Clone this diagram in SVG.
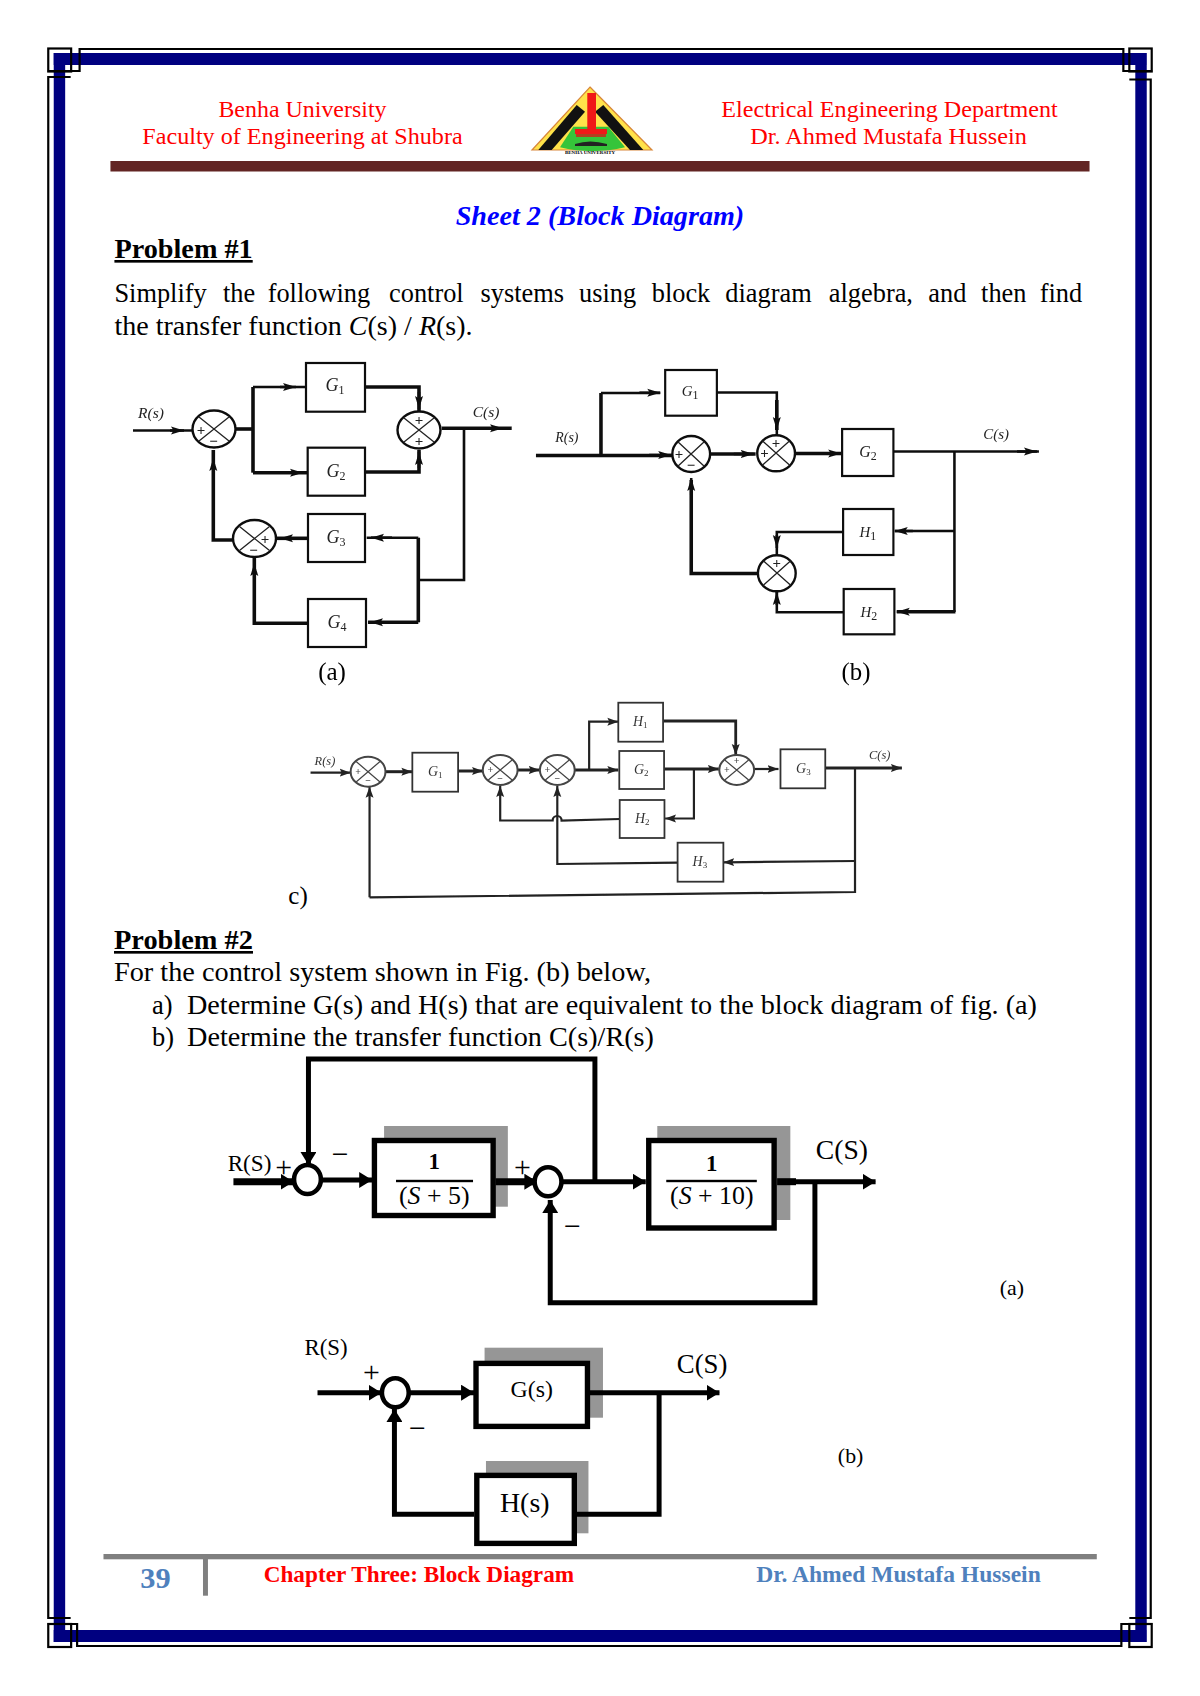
<svg xmlns="http://www.w3.org/2000/svg" width="1200" height="1696" viewBox="0 0 1200 1696">
<style>
text{font-family:"Liberation Serif","Times New Roman",serif;fill:#000}
.hd{font-size:23px;fill:#f00;text-anchor:middle}
.body{font-size:26.5px}
.bi{font-style:italic}
.prob{font-size:26.5px;font-weight:bold}
.cap{font-size:25px;text-anchor:middle}
.cap2{font-size:22px;text-anchor:middle}
.foot{font-size:23px;font-weight:bold}
.box{fill:#fff;stroke:#111;stroke-width:2.2}
.sum{fill:#fff;stroke:#111;stroke-width:2.4}
.xl{fill:none;stroke:#222;stroke-width:1.3}
.ln{fill:none;stroke:#111;stroke-width:2.6}
.th{fill:none;stroke:#111;stroke-width:3.6}
.gl{font-size:18px;font-style:italic;text-anchor:middle;fill:#222}
.sub{font-size:12px;font-style:normal}
.sg{font-size:15px;font-weight:bold;text-anchor:middle;fill:#222}
.lb{font-size:15.5px;font-style:italic;fill:#222}
.c .box{stroke:#333;stroke-width:1.8}
.c .sum{stroke:#444;stroke-width:2}
.c .xl{stroke:#444;stroke-width:1.2}
.c .ln{stroke:#222;stroke-width:2.2}
.c .gl{font-size:14px;fill:#333}
.c .sub{font-size:9px}
.c .sg{font-size:10px;fill:#444}
.c .lb{font-size:12.5px;fill:#333}
.bx{fill:#fff;stroke:#000;stroke-width:5.4}
.sh{fill:#969696}
.bc{fill:#fff;stroke:#000;stroke-width:4.6}
.w{fill:none;stroke:#000;stroke-width:5}
.w7{fill:none;stroke:#000;stroke-width:7}
.m{font-size:24px;text-anchor:middle}
.mm{font-size:24px}
.sgn{font-size:30px;text-anchor:middle}
.frame{fill:none;stroke:#000;stroke-width:2.2}
</style>
<defs>
<marker id="a" markerUnits="userSpaceOnUse" markerWidth="14" markerHeight="10" refX="13" refY="5" orient="auto"><path d="M0,1 L13,5 L0,9 L2.5,5z" fill="#111"/></marker>
<marker id="ac" markerUnits="userSpaceOnUse" markerWidth="12" markerHeight="9" refX="11" refY="4.5" orient="auto"><path d="M0,.5 L11,4.5 L0,8.5 L2,4.5z" fill="#222"/></marker>
<marker id="big" markerUnits="userSpaceOnUse" markerWidth="14" markerHeight="16" refX="13" refY="8" orient="auto"><path d="M0,0 L13,8 L0,16z" fill="#000"/></marker>
<filter id="soft" x="-5%" y="-5%" width="110%" height="110%"><feGaussianBlur stdDeviation="0.4"/></filter>
<filter id="softer" x="-5%" y="-5%" width="110%" height="110%"><feGaussianBlur stdDeviation="0.6"/></filter>
</defs>
<rect width="1200" height="1696" fill="#fff"/>

<g id="page-frame" transform="scale(.995 1)">
<rect x="54" y="53" width="11.500" height="1589" fill="#000080"/>
<rect x="1141" y="53" width="11.500" height="1589" fill="#000080"/>
<rect x="54" y="53" width="1098" height="12" fill="#000080"/>
<rect x="54" y="1630" width="1098" height="12" fill="#000080"/>
<rect x="48.500" y="48.500" width="23" height="23" class="frame"/>
<path class="frame" d="M48,71H80V49H1129V71H1158"/>
<rect x="1135" y="48.500" width="22.500" height="23" class="frame"/>
<path class="frame" d="M71,77H48.500V1618H71"/>
<path class="frame" d="M1135,79.500H1156.500V1618H1135"/>
<rect x="48.500" y="1624" width="23" height="23" class="frame"/>
<rect x="1135" y="1624" width="22.500" height="23" class="frame"/>
<path class="frame" d="M48,1624H77.500V1646H1127V1624H1158"/>
</g>

<g id="header" transform="scale(.995 1)">
<text class="hd" x="304" y="117" textLength="169" lengthAdjust="spacingAndGlyphs">Benha University</text>
<text class="hd" x="304" y="144" textLength="322" lengthAdjust="spacingAndGlyphs">Faculty of Engineering at Shubra</text>
<text class="hd" x="894" y="117" textLength="338" lengthAdjust="spacingAndGlyphs">Electrical Engineering Department</text>
<text class="hd" x="893" y="144" textLength="278" lengthAdjust="spacingAndGlyphs">Dr. Ahmed Mustafa Hussein</text>
<rect x="111" y="161" width="984" height="10.500" fill="#622423"/>
</g>

<g id="logo">
<path d="M590,87L652,150H532z" fill="#ffe24a" stroke="#d8863a" stroke-width="1.200"/>
<path d="M573.300,126.700H608.300L625,147.300Q592,155 560,147.300z" fill="#35c43a"/>
<path d="M576.700,105L585,111.700L551.700,150H538.300z" fill="#111"/>
<path d="M603.300,105L595,111.700L630,150H643.300z" fill="#111"/>
<rect x="587.300" y="93" width="8.700" height="36" fill="#f01818"/>
<rect x="575" y="129" width="32" height="5" fill="#f01818"/>
<path d="M576,134H606V137H576z" fill="#b04020"/>
<path d="M575,144Q590,139 607,144V146H575z" fill="#222"/>
<text x="590" y="154" font-size="5" font-weight="bold" text-anchor="middle" fill="#444">BENHA UNIVERSITY</text>
</g>

<g id="text-top" transform="scale(.995 1)">
<text x="603" y="225" font-size="26.500" font-weight="bold" font-style="italic" style="fill:#00f" text-anchor="middle" textLength="290" lengthAdjust="spacingAndGlyphs">Sheet 2 (Block Diagram)</text>
<text class="prob" x="115" y="258" text-decoration="underline" textLength="139" lengthAdjust="spacingAndGlyphs">Problem #1</text>
<text class="body" y="302"><tspan x="115">Simplify</tspan><tspan x="224">the</tspan><tspan x="269">following</tspan><tspan x="391">control</tspan><tspan x="483">systems</tspan><tspan x="582">using</tspan><tspan x="655">block</tspan><tspan x="729">diagram</tspan><tspan x="833">algebra,</tspan><tspan x="933">and</tspan><tspan x="986">then</tspan><tspan x="1045">find</tspan></text>
<text class="body" x="115" y="335" textLength="360" lengthAdjust="spacingAndGlyphs">the transfer function <tspan class="bi">C</tspan>(s) / <tspan class="bi">R</tspan>(s).</text>
</g>

<g id="fig-1a" filter="url(#soft)">
<g id="connectors-1a">
<path class="ln" d="M133,430.500H192"/><path class="ln" marker-end="url(#a)" d="M170,430.500H184"/>
<path class="th" d="M236,429H253"/>
<path class="th" d="M253,387V472.700"/>
<path class="ln" d="M253,387H305"/><path class="ln" marker-end="url(#a)" d="M280,387H296"/>
<path class="th" d="M253,472.700H307"/><path class="ln" marker-end="url(#a)" d="M285,472.700H303"/>
<path class="th" d="M365,387H419V411"/><path class="ln" marker-end="url(#a)" d="M419,392V409"/>
<path class="th" d="M365.700,472H419V450"/><path class="ln" marker-end="url(#a)" d="M419,468V452"/>
<path class="th" d="M441.700,428.300H511.700"/><path class="ln" marker-end="url(#a)" d="M485,428.300H503"/>
<path class="ln" d="M464,428.300V580H418.300"/>
<path class="th" d="M418.300,537.700V622.300"/>
<path class="ln" d="M418.300,537.700H366.700"/><path class="ln" marker-end="url(#a)" d="M392,537.700H371"/>
<path class="th" d="M418.300,622.300H368"/><path class="ln" marker-end="url(#a)" d="M392,622.300H370"/>
<path class="th" d="M308,538.300H276.700"/><path class="ln" marker-end="url(#a)" d="M298,538.300H280"/>
<path class="th" d="M232.700,540H213.300V450"/><path class="ln" marker-end="url(#a)" d="M213.300,475V458"/>
<path class="th" d="M308,623.300H254.300V557"/><path class="ln" marker-end="url(#a)" d="M254.300,580V563"/>
</g>
<g id="a-G1"><rect class="box" x="306" y="363" width="59" height="48.700"/><text class="gl" x="335" y="391">G<tspan class="sub" dy="3">1</tspan></text></g>
<g id="a-G2"><rect class="box" x="307.700" y="447.700" width="57.300" height="48"/><text class="gl" x="336" y="477">G<tspan class="sub" dy="3">2</tspan></text></g>
<g id="a-G3"><rect class="box" x="308" y="514" width="57" height="48"/><text class="gl" x="336" y="543">G<tspan class="sub" dy="3">3</tspan></text></g>
<g id="a-G4"><rect class="box" x="308" y="599" width="58" height="48"/><text class="gl" x="337" y="628">G<tspan class="sub" dy="3">4</tspan></text></g>
<g id="a-S1"><ellipse class="sum" cx="214" cy="429" rx="21.500" ry="18.500"/><path class="xl" d="M199,417L229,441M229,417L199,441"/><text class="sg" x="201" y="435">+</text><text class="sg" x="213.500" y="446">−</text></g>
<g id="a-S2"><ellipse class="sum" cx="419" cy="430" rx="21.500" ry="18.500"/><path class="xl" d="M404,418L434,442M434,418L404,442"/><text class="sg" x="419" y="425">+</text><text class="sg" x="419" y="446">+</text></g>
<g id="a-S3"><ellipse class="sum" cx="254.500" cy="538.500" rx="21.500" ry="18.500"/><path class="xl" d="M239.500,526.500L269.500,550.500M269.500,526.500L239.500,550.500"/><text class="sg" x="265" y="544">+</text><text class="sg" x="253.500" y="555">−</text></g>
<text class="lb" x="138" y="418">R(s)</text><text class="lb" x="472.700" y="417">C(s)</text>
<text class="cap" x="332" y="680">(a)</text>
</g>

<g id="fig-1b" filter="url(#soft)" transform="translate(530 0) scale(.994 1) translate(-530 0)">
<g id="connectors-1b">
<path class="th" d="M536,455.500H673"/><path class="ln" marker-end="url(#a)" d="M650,455H672"/>
<path class="th" d="M601.400,455V393"/>
<path class="ln" d="M601.400,393H661"/><path class="ln" marker-end="url(#a)" d="M640,392.700H661"/>
<path class="ln" d="M718,392.500H778.300V435"/><path class="th" d="M778.300,400V430"/><path class="ln" marker-end="url(#a)" d="M778.300,410V430"/>
<path class="th" d="M712,454H757"/><path class="ln" marker-end="url(#a)" d="M735,454H755"/>
<path class="th" d="M797,453.500H843"/><path class="ln" marker-end="url(#a)" d="M825,453.500H843"/>
<path class="ln" d="M895.600,451.500H1042"/><path class="ln" marker-end="url(#a)" d="M1020,451.500H1040"/>
<path class="ln" d="M957,451.500V612"/>
<path class="ln" d="M957,531H897"/><path class="ln" marker-end="url(#a)" d="M915,531H897"/>
<path class="th" d="M958,611.700H899"/><path class="ln" marker-end="url(#a)" d="M920,611.700H899"/>
<path class="ln" d="M845,532H778.300V556"/><path class="ln" marker-end="url(#a)" d="M778.300,535V548"/>
<path class="ln" d="M845.600,612.300H778.300V592"/><path class="ln" marker-end="url(#a)" d="M778.300,605V592"/>
<path class="th" d="M760,573.500H692.200V480"/><path class="ln" marker-end="url(#a)" d="M692.200,495V478"/>
</g>
<g id="b-G1"><rect class="box" x="666" y="370" width="52" height="45.700"/><text class="gl" x="691" y="396" style="font-size:15px">G<tspan class="sub" dy="3">1</tspan></text></g>
<g id="b-G2"><rect class="box" x="844" y="429" width="51.600" height="47"/><text class="gl" x="870" y="457" style="font-size:16px">G<tspan class="sub" dy="3">2</tspan></text></g>
<g id="b-H1"><rect class="box" x="845" y="509" width="50.600" height="46"/><text class="gl" x="870" y="537" style="font-size:15px">H<tspan class="sub" dy="3">1</tspan></text></g>
<g id="b-H2"><rect class="box" x="845.600" y="589" width="51" height="45.300"/><text class="gl" x="871" y="617" style="font-size:15px">H<tspan class="sub" dy="3">2</tspan></text></g>
<g id="b-S1"><ellipse class="sum" cx="692.200" cy="454" rx="19" ry="18"/><path class="xl" d="M679,442L705,466M705,442L679,466"/><text class="sg" x="680" y="459">+</text><text class="sg" x="692" y="470">−</text></g>
<g id="b-S2"><ellipse class="sum" cx="777.600" cy="453.300" rx="19" ry="18"/><path class="xl" d="M764,441L791,465M791,441L764,465"/><text class="sg" x="766" y="458">+</text><text class="sg" x="777.600" y="448">+</text></g>
<g id="b-S3"><ellipse class="sum" cx="778.300" cy="573.300" rx="19" ry="18"/><path class="xl" d="M765,561L792,585M792,561L765,585"/><text class="sg" x="778.300" y="568">+</text></g>
<text class="lb" x="555.500" y="442" style="font-size:14px">R(s)</text><text class="lb" x="986" y="439" style="font-size:15px">C(s)</text>
<text class="cap" x="858" y="680">(b)</text>
</g>

<g id="fig-1c" class="c" filter="url(#softer)" transform="translate(280 0) scale(.995 1) translate(-280 0)">
<g id="connectors-1c">
<path class="ln" marker-end="url(#ac)" d="M310.700,772.700H351"/>
<path class="ln" style="stroke-width:3" marker-end="url(#ac)" d="M386.500,771.700H413"/>
<path class="ln" style="stroke-width:3" marker-end="url(#ac)" d="M459,771H484"/>
<path class="ln" style="stroke-width:3" marker-end="url(#ac)" d="M519,770H541"/>
<path class="ln" style="stroke-width:3" marker-end="url(#ac)" d="M576,770H620"/>
<path class="ln" marker-end="url(#ac)" d="M590.700,770V721.700H620"/>
<path class="ln" style="stroke-width:2.800" marker-end="url(#ac)" d="M665,721H738V755"/>
<path class="ln" style="stroke-width:2.800" marker-end="url(#ac)" d="M666,769H721"/>
<path class="ln" marker-end="url(#ac)" d="M696,769V818.500H667"/>
<path class="ln" marker-end="url(#ac)" d="M756,769H781"/>
<path class="ln" style="stroke-width:3" marker-end="url(#ac)" d="M828,768H905"/>
<path class="ln" d="M857.900,768V892L370,897.300"/>
<path class="ln" marker-end="url(#ac)" d="M370,897.300V786.700"/>
<path class="ln" marker-end="url(#ac)" d="M857.900,861L725.500,862.300"/>
<path class="ln" marker-end="url(#ac)" d="M679.600,862.700L558.700,864V786"/>
<path class="ln" marker-end="url(#ac)" d="M621.400,819L563,820.500A4.500,4.500 0 0 0 554,820.500H501.300V786"/>
</g>
<g id="c-G1"><rect class="box" x="413" y="752.700" width="46" height="39"/><text class="gl" x="436" y="776">G<tspan class="sub" dy="2">1</tspan></text></g>
<g id="c-H1"><rect class="box" x="620" y="702.700" width="45" height="39"/><text class="gl" x="642" y="726">H<tspan class="sub" dy="2">1</tspan></text></g>
<g id="c-G2"><rect class="box" x="621" y="751" width="45" height="38"/><text class="gl" x="643" y="774">G<tspan class="sub" dy="2">2</tspan></text></g>
<g id="c-H2"><rect class="box" x="621.400" y="800" width="45" height="38"/><text class="gl" x="644" y="823">H<tspan class="sub" dy="2">2</tspan></text></g>
<g id="c-H3"><rect class="box" x="679.600" y="842.700" width="46" height="39"/><text class="gl" x="702" y="866">H<tspan class="sub" dy="2">3</tspan></text></g>
<g id="c-G3"><rect class="box" x="783" y="749.300" width="45" height="39"/><text class="gl" x="806" y="773">G<tspan class="sub" dy="2">3</tspan></text></g>
<g id="c-S1"><ellipse class="sum" cx="368.500" cy="771.700" rx="17.500" ry="15"/><path class="xl" d="M356.500,761.500L380.500,782M380.500,761.500L356.500,782"/><text class="sg" x="358.500" y="775">+</text><text class="sg" x="368.500" y="784">−</text></g>
<g id="c-S2"><ellipse class="sum" cx="501.300" cy="770" rx="17.500" ry="15"/><path class="xl" d="M489.300,760L513.300,780M513.300,760L489.300,780"/><text class="sg" x="491.300" y="773">+</text><text class="sg" x="501.300" y="782">−</text></g>
<g id="c-S3"><ellipse class="sum" cx="558.700" cy="770" rx="17.500" ry="15"/><path class="xl" d="M546.700,760L570.700,780M570.700,760L546.700,780"/><text class="sg" x="548.700" y="773">+</text><text class="sg" x="558.700" y="782">−</text></g>
<g id="c-S4"><ellipse class="sum" cx="739" cy="770" rx="17.500" ry="15"/><path class="xl" d="M727,760L751,780M751,760L727,780"/><text class="sg" x="729" y="773">+</text><text class="sg" x="739" y="764">+</text></g>
<text class="lb" x="314.800" y="765">R(s)</text><text class="lb" x="872" y="759">C(s)</text>
</g>
<text class="cap" x="298" y="904">c)</text>

<g id="text-mid">
<text class="prob" x="114" y="949" text-decoration="underline" textLength="139" lengthAdjust="spacingAndGlyphs">Problem #2</text>
<text class="body" x="114" y="981" textLength="537" lengthAdjust="spacingAndGlyphs">For the control system shown in Fig. (b) below,</text>
<text class="body" x="152" y="1014">a)</text>
<text class="body" x="187" y="1014" textLength="850" lengthAdjust="spacingAndGlyphs">Determine G(s) and H(s) that are equivalent to the block diagram of fig. (a)</text>
<text class="body" x="152" y="1046">b)</text>
<text class="body" x="187" y="1046" textLength="467" lengthAdjust="spacingAndGlyphs">Determine the transfer function C(s)/R(s)</text>
</g>

<g id="fig-2a" transform="translate(200 0) scale(.995 1) translate(-200 0)">
<g id="shadows-2a"><rect class="sh" x="385" y="1126" width="124.400" height="80.700"/><rect class="sh" x="659.600" y="1126" width="133.700" height="94"/></g>
<g id="connectors-2a">
<path class="w7" marker-end="url(#big)" d="M233.600,1181.700H294"/>
<path class="w" marker-end="url(#big)" d="M322,1180H373"/>
<path class="w7" marker-end="url(#big)" d="M497,1181.700H539"/>
<path class="w" marker-end="url(#big)" d="M564,1181.700H648"/>
<path class="w7" d="M780,1181.700H799"/>
<path class="w" marker-end="url(#big)" d="M797,1181.700H879"/>
<path class="w" marker-end="url(#big)" d="M596.900,1181V1059H309V1165"/>
<path class="w" marker-end="url(#big)" d="M818,1181V1302.700H552V1200"/>
</g>
<g id="block-1"><rect class="bx" x="375.300" y="1140.500" width="119.300" height="75"/><text class="m" x="435.400" y="1169.500" font-weight="bold" style="font-size:23px">1</text><rect x="397" y="1179.800" width="77.400" height="2.400"/><text class="m" x="435.400" y="1204" style="font-size:26px"><tspan>(</tspan><tspan class="bi">S</tspan><tspan> + 5)</tspan></text></g>
<g id="block-2"><rect class="bx" x="651" y="1140.500" width="126" height="87.500"/><text class="m" x="714.400" y="1170.700" font-weight="bold" style="font-size:23px">1</text><rect x="668.600" y="1179.800" width="91" height="2.400"/><text class="m" x="714.400" y="1204" style="font-size:26px"><tspan>(</tspan><tspan class="bi">S</tspan><tspan> + 10)</tspan></text></g>
<g id="sum-2a-1"><ellipse class="bc" cx="308" cy="1179.500" rx="13.500" ry="14.500"/></g>
<g id="sum-2a-2"><ellipse class="bc" cx="549.800" cy="1181.700" rx="13.500" ry="14.500"/></g>
<text class="mm" x="227.800" y="1170.700" textLength="44" lengthAdjust="spacingAndGlyphs">R(S)</text>
<text class="sgn" x="284" y="1177">+</text><text class="sgn" x="341" y="1164">−</text>
<text class="sgn" x="524" y="1177">+</text><text class="sgn" x="574.400" y="1236">−</text>
<text class="mm" x="818.900" y="1159.300" style="font-size:28px" textLength="52.400" lengthAdjust="spacingAndGlyphs">C(S)</text>
<text class="cap2" x="1016" y="1295">(a)</text>
</g>

<g id="fig-2b" transform="translate(280 0) scale(.995 1) translate(-280 0)">
<g id="shadows-2b"><rect class="sh" x="485.600" y="1347.700" width="119" height="70"/><rect class="sh" x="487" y="1461" width="103" height="72.300"/></g>
<g id="connectors-2b">
<path class="w" marker-end="url(#big)" d="M317.700,1392.700H382"/>
<path class="w" marker-end="url(#big)" d="M410,1392.700H475"/>
<path class="w" marker-end="url(#big)" d="M591.500,1392.700H721.700"/>
<path class="w" d="M661,1392.700V1514.300H578.400"/>
<path class="w" marker-end="url(#big)" d="M475.200,1514.300H395V1409"/>
</g>
<g id="G-s"><rect class="bx" x="477" y="1363.400" width="112" height="63"/><text class="m" x="533" y="1396.700">G(s)</text></g>
<g id="H-s"><rect class="bx" x="477.800" y="1475.400" width="98" height="68"/><text class="m" x="526" y="1511.700" style="font-size:28px">H(s)</text></g>
<g id="sum-2b"><ellipse class="bc" cx="395.900" cy="1392.700" rx="13.500" ry="14.500"/></g>
<text class="mm" x="304.600" y="1355" textLength="43.400" lengthAdjust="spacingAndGlyphs">R(S)</text>
<text class="sgn" x="372" y="1382">+</text><text class="sgn" x="418" y="1438">−</text>
<text class="mm" x="678.800" y="1372.700" style="font-size:28px" textLength="50.800" lengthAdjust="spacingAndGlyphs">C(S)</text>
<text class="cap2" x="853.500" y="1463">(b)</text>
</g>

<g id="footer" transform="scale(.995 1)">
<rect x="104" y="1554" width="998.300" height="5.300" fill="#808080"/>
<rect x="204" y="1559" width="5" height="36.700" fill="#808080"/>
<text x="141" y="1588.300" font-size="29" font-weight="bold" style="fill:#4f81bd" textLength="30.500" lengthAdjust="spacingAndGlyphs">39</text>
<text class="foot" x="265" y="1581.700" style="fill:#f00" textLength="312" lengthAdjust="spacingAndGlyphs">Chapter Three: Block Diagram</text>
<text class="foot" x="760" y="1581.700" style="fill:#4f81bd" textLength="286" lengthAdjust="spacingAndGlyphs">Dr. Ahmed Mustafa Hussein</text>
</g>
</svg>
